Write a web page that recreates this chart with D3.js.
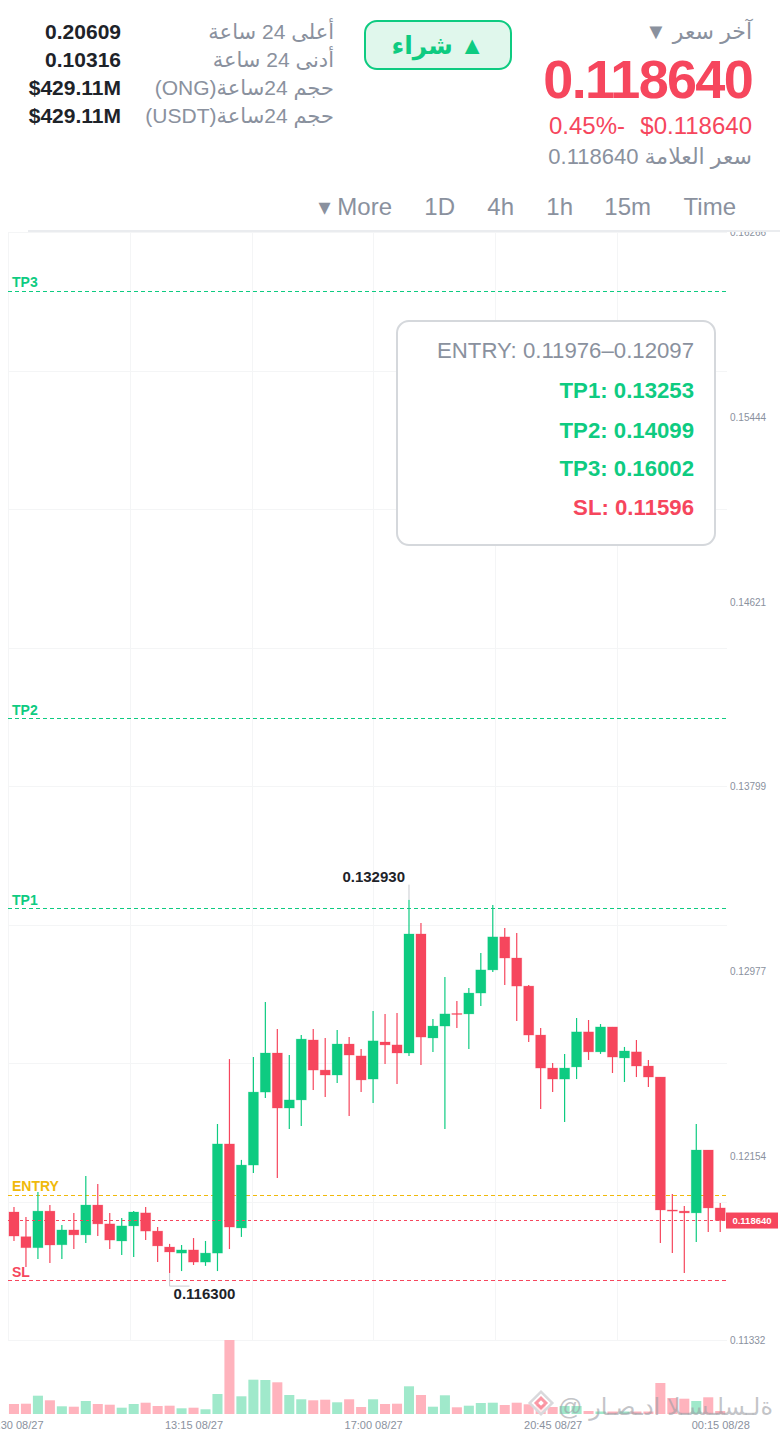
<!DOCTYPE html>
<meta charset="utf-8">
<style>
    html, body { margin: 0; padding: 0; background: #fff; }
    svg { display: block; font-family: "Liberation Sans", "Noto Sans", "DejaVu Sans", sans-serif; }
</style>

<!--load d3.js-->
<script src="https://d3js.org/d3.v7.min.js"></script>

<div id="chart"></div>

<script>
    // 15m candles
    const open = [0.11902, 0.11792, 0.11743, 0.11906, 0.11756, 0.11822, 0.11800, 0.11933, 0.11849, 0.11773,
        0.11840, 0.11898, 0.11817, 0.11746, 0.11719, 0.11733, 0.11679, 0.11719, 0.12205, 0.11831,
        0.12111, 0.12436, 0.12610, 0.12365, 0.12401, 0.12668, 0.12534, 0.12512, 0.12650, 0.12597,
        0.12494, 0.12659, 0.12646, 0.12610, 0.13140, 0.12677, 0.12730, 0.12786, 0.12784, 0.12877,
        0.12980, 0.13127, 0.13033, 0.12908, 0.12690, 0.12543, 0.12494, 0.12548, 0.12704, 0.12615,
        0.12726, 0.12588, 0.12615, 0.12552, 0.12503, 0.11911, 0.11906, 0.11898, 0.12178, 0.11920];
    const high = [0.11924, 0.11880, 0.11991, 0.11933, 0.11844, 0.11898, 0.12062, 0.12027, 0.11898, 0.11875,
        0.11906, 0.11924, 0.11835, 0.11760, 0.11755, 0.11786, 0.11773, 0.12294, 0.12583, 0.12134,
        0.12592, 0.12837, 0.12717, 0.12601, 0.12690, 0.12717, 0.12677, 0.12713, 0.12681, 0.12628,
        0.12797, 0.12784, 0.12788, 0.13293, 0.13189, 0.12761, 0.12949, 0.12842, 0.12900, 0.13055,
        0.13269, 0.13167, 0.13144, 0.12913, 0.12721, 0.12566, 0.12606, 0.12766, 0.12757, 0.12739,
        0.12726, 0.12637, 0.12668, 0.12579, 0.12503, 0.11982, 0.11929, 0.12294, 0.12178, 0.11942];
    const low = [0.11773, 0.11657, 0.11693, 0.11675, 0.11693, 0.11737, 0.11764, 0.11795, 0.11737, 0.11711,
        0.11702, 0.11777, 0.11679, 0.11630, 0.11639, 0.11666, 0.11662, 0.11639, 0.11737, 0.11791,
        0.12076, 0.12410, 0.12053, 0.12272, 0.12285, 0.12445, 0.12414, 0.12476, 0.12330, 0.12436,
        0.12387, 0.12561, 0.12472, 0.12597, 0.12557, 0.12615, 0.12272, 0.12721, 0.12628, 0.12819,
        0.12971, 0.12913, 0.12753, 0.12659, 0.12361, 0.12436, 0.12303, 0.12494, 0.12579, 0.12606,
        0.12521, 0.12481, 0.12503, 0.12459, 0.11764, 0.11719, 0.11630, 0.11768, 0.11813, 0.11813];
    const close = [0.11795, 0.11743, 0.11906, 0.11755, 0.11822, 0.11800, 0.11933, 0.11849, 0.11777, 0.11840,
        0.11902, 0.11817, 0.11751, 0.11724, 0.11733, 0.11679, 0.11719, 0.12205, 0.11835, 0.12111,
        0.12436, 0.12610, 0.12365, 0.12401, 0.12672, 0.12534, 0.12512, 0.12650, 0.12601, 0.12490,
        0.12664, 0.12646, 0.12610, 0.13140, 0.12681, 0.12730, 0.12784, 0.12782, 0.12877, 0.12980,
        0.13127, 0.13033, 0.12908, 0.12690, 0.12543, 0.12494, 0.12543, 0.12704, 0.12615, 0.12726,
        0.12592, 0.12619, 0.12552, 0.12503, 0.11911, 0.11906, 0.11898, 0.12178, 0.11920, 0.11864];
    // relative volume, tallest bar = 74
    const volume = [10, 10.3, 18.3, 13.7, 7.7, 7.3, 13, 10, 9.3, 6.3,
        10, 11.3, 8, 8.3, 5.7, 6.3, 4.7, 20, 74, 17.7,
        34.3, 34, 31.7, 19, 14.7, 13.7, 14.3, 11.7, 14.7, 7,
        14.7, 10, 10.3, 27.7, 19, 7.3, 18.7, 6.7, 8.3, 11,
        11.3, 9, 11.3, 9.7, 9, 7, 8, 8, 3, 2.5,
        2.5, 2.5, 2.5, 2.5, 31, 16, 15.3, 13, 16.7, 3];

    const priceTicks = [0.16266, 0.15444, 0.14621, 0.13799, 0.12977, 0.12154, 0.11332];
    const timeTicks = [[0, "09:30 08/27"], [15, "13:15 08/27"], [30, "17:00 08/27"], [45, "20:45 08/27"], [59, "00:15 08/28"]];
    const levelNames = ["TP3", "TP2", "TP1", "ENTRY", "SL"];
    const levelPrices = [0.16002, 0.14099, 0.13253, 0.11976, 0.11596];
    const lastPrice = 0.11864;

    const statLabels = ["أعلى 24 ساعة", "أدنى 24 ساعة", "حجم 24ساعة(ONG)", "حجم 24ساعة(USDT)"];
    const statValues = ["0.20609", "0.10316", "$429.11M", "$429.11M"];
    const tabs = ["▾ More", "1D", "4h", "1h", "15m", "Time"];
    const tabRight = [392, 455, 514, 573, 651, 736];
    const boxLines = ["ENTRY: 0.11976–0.12097", "TP1: 0.13253", "TP2: 0.14099", "TP3: 0.16002", "SL: 0.11596"];

    const green = "#0ecb81", red = "#f6465d", grey = "#8a919e", dark = "#1e2329", yellow = "#f0b90b";
    const levelColors = [green, green, green, yellow, red];
    const boxColors = [grey, green, green, green, red];

    const width = 780, height = 1432;
    const data = open.map((o, i) => ({i: i, o: o, h: high[i], l: low[i], c: close[i], v: volume[i]}));

    const svg = d3.select("#chart")
        .append("svg")
        .attr("width", width)
        .attr("height", height);

    //scales
    const x = d3.scaleBand()
        .domain(d3.range(data.length))
        .range([8, 726.2])
        .paddingInner(0.16)
        .paddingOuter(0.08);

    const y = d3.scaleLinear()
        .domain([0.11332, 0.16266])
        .range([1340, 232]);

    const yVol = d3.scaleLinear()
        .domain([0, 74])
        .range([1414, 1340]);

    const cx = i => x(i) + x.bandwidth() / 2;
    const col = d => d.c >= d.o ? green : red;
    // keep the dashed lines on a whole pixel row
    const crisp = v => Math.floor(y(v)) + 0.5;

    //grid
    const grid = svg.append("g").attr("stroke", "#f4f5f6").attr("stroke-width", 1);
    grid.selectAll("line.h").data(d3.range(9)).join("line")
        .attr("class", "h")
        .attr("x1", 8).attr("x2", 727)
        .attr("y1", d => Math.round(232 + d * 138.5) + 0.5)
        .attr("y2", d => Math.round(232 + d * 138.5) + 0.5);
    grid.selectAll("line.v").data(d3.range(6)).join("line")
        .attr("class", "v")
        .attr("x1", d => Math.round(8 + d * 121.8) + 0.5)
        .attr("x2", d => Math.round(8 + d * 121.8) + 0.5)
        .attr("y1", 232).attr("y2", 1340);

    //price axis, top label is cut by the header
    svg.append("clipPath").attr("id", "axisClip")
        .append("rect").attr("x", 726).attr("y", 230).attr("width", 54).attr("height", 1130);

    const yAxis = svg.append("g")
        .attr("clip-path", "url(#axisClip)")
        .append("g")
        .attr("transform", "translate(727,0.5)")
        .call(d3.axisRight(y).tickValues(priceTicks).tickFormat(d3.format(".5f")).tickSize(0).tickPadding(3));
    yAxis.select(".domain").remove();
    yAxis.selectAll("text")
        .attr("fill", grey)
        .style("font-family", "Liberation Sans")
        .style("font-size", "10px");

    svg.append("line")
        .attr("x1", 28).attr("x2", 780)
        .attr("y1", 231).attr("y2", 231)
        .attr("stroke", "#eaecef").attr("stroke-width", 2);

    //volume
    svg.append("g").selectAll("rect").data(data).join("rect")
        .attr("x", d => x(d.i))
        .attr("width", x.bandwidth())
        .attr("y", d => yVol(d.v))
        .attr("height", d => yVol(0) - yVol(d.v))
        .attr("fill", d => d.c >= d.o ? "#a0e9cb" : "#ffb3bd");

    //level lines
    svg.append("g").selectAll("line").data(levelPrices).join("line")
        .attr("x1", 8).attr("x2", 726)
        .attr("y1", d => crisp(d)).attr("y2", d => crisp(d))
        .attr("stroke", (d, i) => levelColors[i])
        .attr("stroke-dasharray", "4 3");

    svg.append("g").selectAll("text").data(levelNames).join("text")
        .attr("x", 12)
        .attr("y", (d, i) => y(levelPrices[i]) - 4)
        .attr("fill", (d, i) => levelColors[i])
        .attr("font-size", 14)
        .attr("font-weight", "bold")
        .text(d => d);

    //candles
    const candles = svg.append("g").selectAll("g").data(data).join("g");
    candles.append("line")
        .attr("x1", d => cx(d.i)).attr("x2", d => cx(d.i))
        .attr("y1", d => y(d.h)).attr("y2", d => y(d.l))
        .attr("stroke", col)
        .attr("stroke-width", 1.2);
    candles.append("rect")
        .attr("x", d => x(d.i))
        .attr("width", x.bandwidth())
        .attr("y", d => y(Math.max(d.o, d.c)))
        .attr("height", d => Math.max(1, Math.abs(y(d.o) - y(d.c))))
        .attr("fill", col)
        .attr("stroke", col)
        .attr("stroke-opacity", 0.3)
        .attr("stroke-width", 0.8);

    //last price line and tag
    svg.append("line")
        .attr("x1", 8).attr("x2", 726)
        .attr("y1", crisp(lastPrice)).attr("y2", crisp(lastPrice))
        .attr("stroke", red)
        .attr("stroke-dasharray", "3 3");
    svg.append("rect")
        .attr("x", 726).attr("y", y(lastPrice) - 8)
        .attr("width", 52).attr("height", 16)
        .attr("fill", red);
    svg.append("text")
        .attr("x", 752).attr("y", y(lastPrice) + 3.5)
        .attr("text-anchor", "middle")
        .attr("fill", "#fff")
        .attr("font-size", 9.5)
        .attr("font-weight", "bold")
        .text(lastPrice.toFixed(6));

    //high / low notes
    const hiIdx = d3.maxIndex(high), loIdx = d3.minIndex(low);
    svg.append("line")
        .attr("x1", cx(hiIdx)).attr("x2", cx(hiIdx))
        .attr("y1", y(high[hiIdx]) - 15).attr("y2", y(high[hiIdx]))
        .attr("stroke", "#c9ccd1");
    svg.append("text")
        .attr("x", cx(hiIdx) - 4).attr("y", y(high[hiIdx]) - 18)
        .attr("text-anchor", "end")
        .attr("fill", dark).attr("font-size", 15).attr("font-weight", "bold")
        .text("0.132930");
    svg.append("path")
        .attr("d", d3.line()([[cx(loIdx), y(low[loIdx])], [cx(loIdx), y(low[loIdx]) + 13], [cx(loIdx) + 20, y(low[loIdx]) + 13]]))
        .attr("fill", "none")
        .attr("stroke", "#c9ccd1");
    svg.append("text")
        .attr("x", cx(loIdx) + 4).attr("y", y(low[loIdx]) + 26)
        .attr("fill", dark).attr("font-size", 15).attr("font-weight", "bold")
        .text("0.116300");

    //time axis
    const xAxis = svg.append("g")
        .attr("transform", "translate(0,1414)")
        .call(d3.axisBottom(d3.scaleLinear().domain([0, data.length - 1]).range([cx(0), cx(data.length - 1)]))
            .tickValues(timeTicks.map(d => d[0]))
            .tickFormat((d, i) => timeTicks[i][1])
            .tickSize(0).tickPadding(7));
    xAxis.select(".domain").remove();
    xAxis.selectAll("text")
        .attr("fill", grey)
        .style("font-family", "Liberation Sans")
        .style("font-size", "11px");

    //info box
    svg.append("rect")
        .attr("x", 397).attr("y", 321)
        .attr("width", 318).attr("height", 224)
        .attr("rx", 12)
        .attr("fill", "#fff")
        .attr("stroke", "#d5d8dc").attr("stroke-width", 2);
    svg.append("g").selectAll("text").data(boxLines).join("text")
        .attr("x", 694)
        .attr("y", (d, i) => [358, 398, 438, 476, 515][i])
        .attr("text-anchor", "end")
        .attr("fill", (d, i) => boxColors[i])
        .attr("font-size", 22.2)
        .attr("font-weight", (d, i) => i ? "bold" : "normal")
        .text(d => d);

    //header, right block
    svg.append("text").attr("x", 752).attr("y", 39).attr("text-anchor", "start")
        .style("direction", "rtl")
        .attr("fill", grey).attr("font-size", 22).text("آخر سعر ▼");
    svg.append("text").attr("x", 752).attr("y", 98).attr("text-anchor", "end")
        .attr("fill", red).attr("font-size", 54).attr("font-weight", "bold")
        .attr("letter-spacing", -1.7).text("0.118640");
    svg.append("text").attr("x", 752).attr("y", 134).attr("text-anchor", "end")
        .attr("fill", red).attr("font-size", 24).text("$0.118640");
    svg.append("text").attr("x", 625).attr("y", 134).attr("text-anchor", "end")
        .attr("fill", red).attr("font-size", 24).text("0.45%-");
    svg.append("text").attr("x", 752).attr("y", 164).attr("text-anchor", "end")
        .attr("fill", grey).attr("font-size", 22).text("0.118640 سعر العلامة");

    //buy button
    svg.append("rect")
        .attr("x", 365).attr("y", 21)
        .attr("width", 146).attr("height", 48)
        .attr("rx", 12)
        .attr("fill", "#e0f7ec")
        .attr("stroke", green).attr("stroke-width", 2);
    svg.append("text").attr("x", 438).attr("y", 54).attr("text-anchor", "middle")
        .style("direction", "rtl")
        .attr("fill", green).attr("font-size", 25).attr("font-weight", "bold").text("▲ شراء");

    //24h stats
    svg.append("g").selectAll("text").data(statLabels).join("text")
        .attr("x", 334)
        .attr("y", (d, i) => 39 + i * 28)
        .style("direction", "rtl")
        .attr("fill", grey).attr("font-size", 21)
        .text(d => d);
    svg.append("g").selectAll("text").data(statValues).join("text")
        .attr("x", 121)
        .attr("y", (d, i) => 39 + i * 28)
        .attr("text-anchor", "end")
        .attr("fill", dark).attr("font-size", 21).attr("font-weight", "bold")
        .text(d => d);

    //time frame tabs
    svg.append("g").selectAll("text").data(tabs).join("text")
        .attr("x", (d, i) => tabRight[i])
        .attr("y", 214.5)
        .attr("text-anchor", "end")
        .attr("fill", grey).attr("font-size", 24)
        .text(d => d);

    //watermark
    svg.append("text").attr("x", 773).attr("y", 1415)
        .style("direction", "rtl")
        .attr("fill", "#9a9da3").attr("fill-opacity", 0.6)
        .attr("font-size", 24)
        .text("ةلـسلـسـلا ادـصـار @");
    const logo = svg.append("g").attr("transform", "translate(541,1403) rotate(45)");
    logo.append("rect").attr("x", -8).attr("y", -8).attr("width", 16).attr("height", 16)
        .attr("fill", "#fff").attr("fill-opacity", 0.7)
        .attr("stroke", "#d9d9dc").attr("stroke-width", 2.5);
    logo.append("rect").attr("x", -5).attr("y", -5).attr("width", 10).attr("height", 10)
        .attr("fill", red).attr("fill-opacity", 0.55);
    logo.append("rect").attr("x", -2).attr("y", -2).attr("width", 4).attr("height", 4)
        .attr("fill", "#fff");
</script>
